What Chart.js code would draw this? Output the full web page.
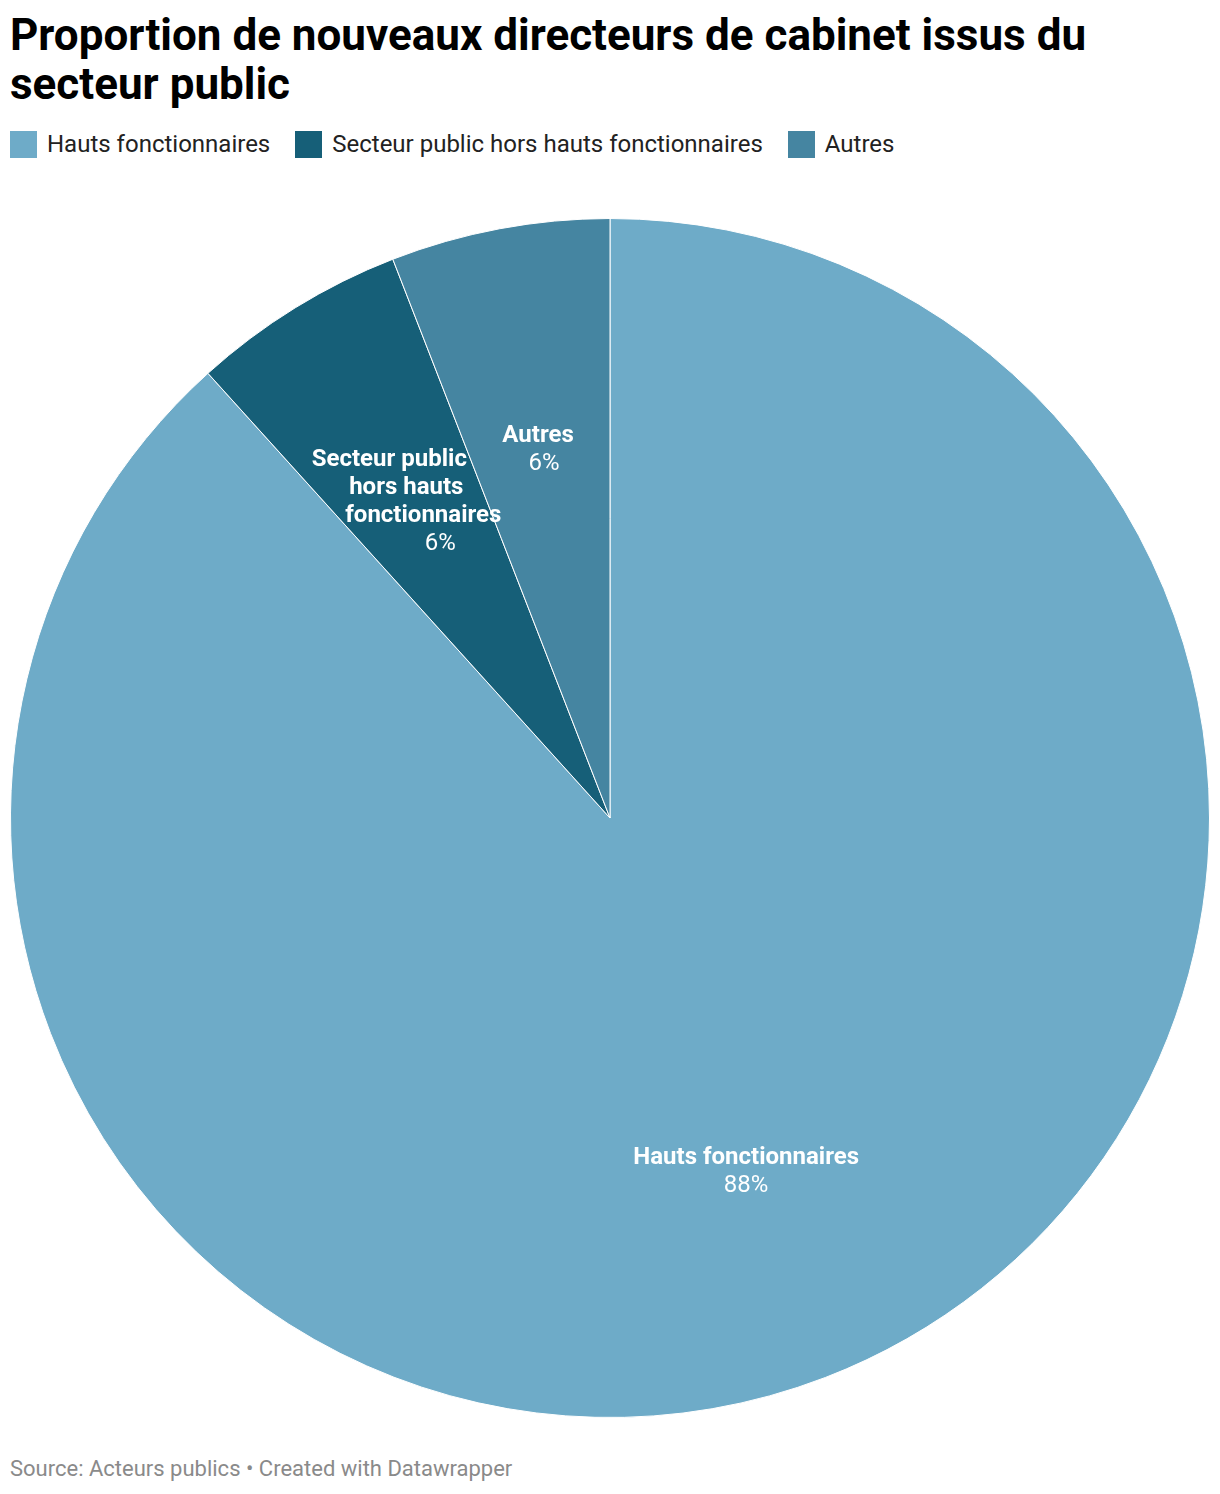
<!DOCTYPE html>
<html>
<head>
<meta charset="utf-8">
<script src="https://cdn.jsdelivr.net/npm/chart.js@4"></script>
<style>
    body { margin: 0; background: #fff; font-family: Roboto, sans-serif; width: 1220px; height: 1494px; position: relative; }
    h1 { position: absolute; left: 10px; top: 11px; margin: 0; font-size: 44px; line-height: 49px; font-weight: 700; color: #000; width: 1120px; }
    #legend { position: absolute; left: 10px; top: 130px; display: flex; font-size: 24px; color: #222; }
    .item { display: flex; align-items: center; margin-right: 25px; }
    .swatch { width: 27px; height: 27px; margin-right: 10px; }
    #wrap { position: absolute; left: 10px; top: 218px; width: 1200px; height: 1200px; }
    #footer { position: absolute; left: 10px; top: 1456px; font-size: 22px; color: #8a8a8a; }
</style>
</head>
<body>
<h1>Proportion de nouveaux directeurs de cabinet issus du secteur public</h1>
<div id="legend"></div>
<div id="wrap"><canvas id="pie"></canvas></div>
<div id="footer">Source: Acteurs publics • Created with Datawrapper</div>
<script>
const categories = ['Hauts fonctionnaires', 'Secteur public hors hauts fonctionnaires', 'Autres'];
const values = [88.3, 5.8, 5.9];
const valueLabels = ['88%', '6%', '6%'];
// line breaks used inside the slices
const sliceLabels = [['Hauts fonctionnaires'], ['Secteur public', 'hors hauts', 'fonctionnaires'], ['Autres']];
const colors = ['#6eabc8', '#165f78', '#4585a1'];

document.getElementById('legend').innerHTML = categories.map((c, i) =>
    `<div class="item"><div class="swatch" style="background:${colors[i]}"></div>${c}</div>`
).join('');

// label placement: distance from centre (share of radius) and per-line sideways slide
const labelDist = [0.632, 0.62, 0.624];
const lineShift = [0, 17, 6];

// draws the name (bold) and the percentage inside each slice
const sliceText = {
    id: 'sliceText',
    afterDatasetsDraw(chart) {
        const ctx = chart.ctx;
        const meta = chart.getDatasetMeta(0);
        ctx.save();
        ctx.fillStyle = '#fff';
        ctx.textAlign = 'center';
        ctx.textBaseline = 'middle';
        meta.data.forEach((arc, i) => {
            const p = arc.getProps(['x', 'y', 'startAngle', 'endAngle', 'outerRadius']);
            const mid = (p.startAngle + p.endAngle) / 2;
            const r = p.outerRadius * labelDist[i];
            const cx = p.x + Math.cos(mid) * r;
            const cy = p.y + Math.sin(mid) * r;
            const lines = sliceLabels[i];
            const n = lines.length + 1;
            const lh = 28;
            let y = cy - (n * lh) / 2 + lh / 2;
            const x0 = cx - lineShift[i] * (n - 1) / 2;
            ctx.font = 'bold 24px Roboto';
            lines.forEach((l, j) => { ctx.fillText(l, x0 + lineShift[i] * j, y); y += lh; });
            ctx.font = '24px Roboto';
            ctx.fillText(valueLabels[i], x0 + lineShift[i] * (n - 1), y);
        });
        ctx.restore();
    }
};

new Chart(document.getElementById('pie'), {
    type: 'pie',
    data: {
        labels: categories,
        datasets: [{
            data: values,
            backgroundColor: colors,
            borderColor: '#fff',
            borderWidth: 1
        }]
    },
    options: {
        responsive: true,
        maintainAspectRatio: false,
        animation: false,
        layout: { padding: 0 },
        plugins: { legend: { display: false }, tooltip: { enabled: false } }
    },
    plugins: [sliceText]
});
</script>
</body>
</html>
